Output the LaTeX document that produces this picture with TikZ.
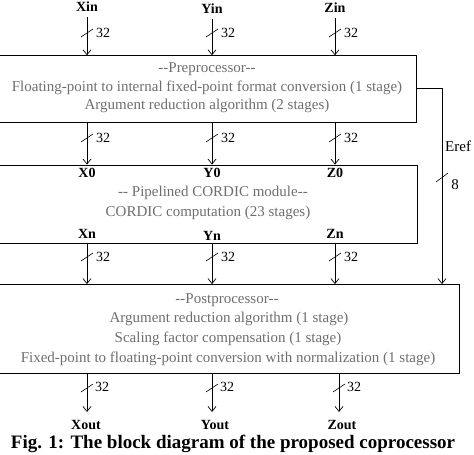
\documentclass[tikz,border=0pt]{standalone}
\usepackage{fontspec}
\setmainfont{Liberation Serif}
\usetikzlibrary{arrows.meta}
\definecolor{textgray}{RGB}{110,110,110}
\begin{document}
\begin{tikzpicture}[x=1pt,y=-1pt,
  box/.style={draw, line width=0.8pt, inner sep=0pt},
  arr/.style={-{Straight Barb[length=5pt,width=8pt]}, line width=0.7pt},
  sig/.style={font=\fontsize{14}{14}\selectfont\bfseries, inner sep=0pt},
  txt/.style={text=textgray, font=\fontsize{15}{15}\selectfont, inner sep=0pt},
  num/.style={font=\fontsize{14}{14}\selectfont, anchor=west, inner sep=0pt},
  tick/.style={line width=0.6pt},
]
\useasboundingbox (0,0) rectangle (474,455);
% boxes
\node[box, minimum width=421.5pt, minimum height=67pt] (pre) at (205.75,89.2) {};
\node[box, minimum width=422pt, minimum height=78pt] (cordic) at (206,204) {};
\node[box, minimum width=464pt, minimum height=88.5pt] (post) at (227,328.75) {};
% input labels
\node[sig] (xin) at (87,7) {Xin};
\node[sig] (yin) at (212,9) {Yin};
\node[sig] (zin) at (335,8) {Zin};
% box texts
\node[txt] (pre1) at (207,69) {-{}-Preprocessor-{}-};
\node[txt] (pre2) at (207,87.5) {Floating-point to internal fixed-point format conversion (1 stage)};
\node[txt] (pre3) at (207,106) {Argument reduction algorithm (2 stages)};
\node[sig] (x0) at (87,173) {X0};
\node[sig] (y0) at (212,173) {Y0};
\node[sig] (z0) at (335,173) {Z0};
\node[txt] (cor1) at (213,193) {-{}- Pipelined CORDIC module-{}-};
\node[txt] (cor2) at (208,213) {CORDIC computation (23 stages)};
\node[sig] (xn) at (87,234) {Xn};
\node[sig] (yn) at (212,236) {Yn};
\node[sig] (zn) at (335,234) {Zn};
\node[txt] (post1) at (227,300) {-{}-Postprocessor-{}-};
\node[txt] (post2) at (229,319) {Argument reduction algorithm (1 stage)};
\node[txt] (post3) at (228,338.5) {Scaling factor compensation (1 stage)};
\node[txt] (post4) at (228,359) {Fixed-point to floating-point conversion with normalization (1 stage)};
% output labels
\node[sig] (xout) at (86,425) {Xout};
\node[sig] (yout) at (215,425) {Yout};
\node[sig] (zout) at (342,425) {Zout};
% caption
\node[font=\fontsize{19}{19}\selectfont\bfseries, inner sep=0pt] (cap) at (233,444) {Fig. 1: The block diagram of the proposed coprocessor};
% input arrows
\foreach \n in {xin,yin,zin}{
  \draw[arr] ([yshift=-10pt]\n.center) -- (\n |- pre.north);
  \draw[tick] ([xshift=-6pt]\n |- 0,37) -- ([xshift=6pt]\n |- 0,29);
  \node[num] at ([xshift=9pt]\n |- 0,33) {32};
}
% pre -> cordic
\foreach \n in {xin,yin,zin}{
  \draw[arr] (\n |- pre.south) -- (\n |- cordic.north);
  \draw[tick] ([xshift=-6pt]\n |- 0,142) -- ([xshift=6pt]\n |- 0,134);
  \node[num] at ([xshift=9pt]\n |- 0,138) {32};
}
% cordic -> post
\foreach \n in {xin,yin,zin}{
  \draw[arr] (\n |- cordic.south) -- (\n |- post.north);
  \draw[tick] ([xshift=-6pt]\n |- 0,261) -- ([xshift=6pt]\n |- 0,253);
  \node[num] at ([xshift=9pt]\n |- 0,257) {32};
}
% outputs
\coordinate (ox) at (87,412);
\coordinate (oy) at (212,412);
\coordinate (oz) at (339,412);
\foreach \n in {ox,oy,oz}{
  \draw[arr] (\n |- post.south) -- (\n);
  \draw[tick] ([xshift=-6pt]\n |- 0,392) -- ([xshift=6pt]\n |- 0,384);
  \node[num] at ([xshift=8pt]\n |- 0,387) {32};
}
% Eref
\coordinate (ec) at (442,88);
\draw[arr] (pre.east |- ec) -- (ec) -- (ec |- post.north);
\node[font=\fontsize{15}{15}\selectfont, anchor=west, inner sep=0pt] (eref) at (445,146) {Eref};
\draw[tick] (436,182) -- (448,173);
\node[font=\fontsize{15}{15}\selectfont, inner sep=0pt] (eight) at (455,185) {8};
\end{tikzpicture}
\end{document}
